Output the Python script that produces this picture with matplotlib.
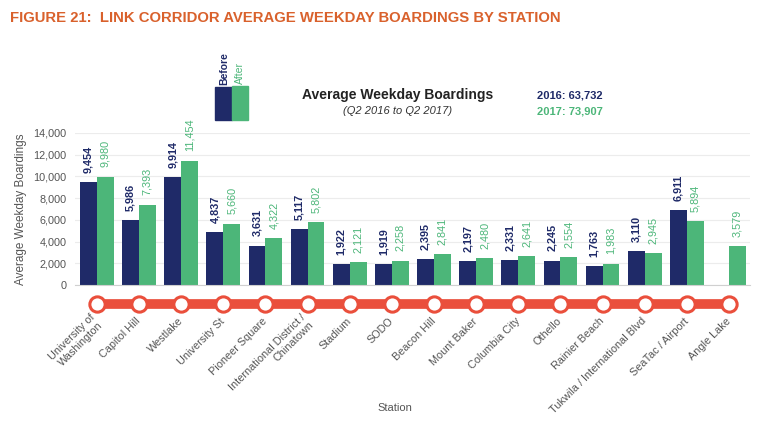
import matplotlib
matplotlib.use('Agg')
import matplotlib.pyplot as plt
from matplotlib.patches import Rectangle
from matplotlib.transforms import blended_transform_factory

plt.rcParams['font.family'] = ['Liberation Sans', 'DejaVu Sans']

NAVY = '#1f2a68'
GREEN = '#4cb679'
RED = '#ea4f3c'
ORANGE = '#d9612c'

stations = ['University of\nWashington', 'Capitol Hill', 'Westlake', 'University St',
            'Pioneer Square', 'International District /\nChinatown', 'Stadium', 'SODO',
            'Beacon Hill', 'Mount Baker', 'Columbia City', 'Othello', 'Rainier Beach',
            'Tukwila / International Blvd', 'SeaTac / Airport', 'Angle Lake']
before = [9454, 5986, 9914, 4837, 3631, 5117, 1922, 1919, 2395, 2197, 2331, 2245, 1763, 3110, 6911, None]
after = [9980, 7393, 11454, 5660, 4322, 5802, 2121, 2258, 2841, 2480, 2641, 2554, 1983, 2945, 5894, 3579]
yticks = [0, 2000, 4000, 6000, 8000, 10000, 12000, 14000]

fig = plt.figure(figsize=(7.68, 4.3), dpi=100)
ax = fig.add_axes([75 / 768, 0.337, 675 / 768, 0.354])

w = 0.4
xs = list(range(len(stations)))
for i in xs:
    if before[i] is not None:
        ax.bar(i - w / 2, before[i], w, color=NAVY)
        ax.text(i - w / 2, before[i] + 850, f'{before[i]:,}', rotation=90, ha='center',
                va='bottom', fontsize=7.8, color=NAVY, fontweight='bold')
    ax.bar(i + w / 2, after[i], w, color=GREEN)
    ax.text(i + w / 2, after[i] + 850, f'{after[i]:,}', rotation=90, ha='center',
            va='bottom', fontsize=7.8, color=GREEN)

ax.set_xlim(-0.52, 15.5)
ax.set_ylim(0, 14000)
ax.set_yticks(yticks)
ax.set_yticklabels([f'{v:,}' for v in yticks], fontsize=7.8, color='#555555')
ax.set_xticks([])
ax.tick_params(axis='y', length=0, pad=6)
ax.grid(axis='y', color='#ececec', linewidth=0.8)
ax.set_axisbelow(True)
for s in ['top', 'right', 'left']:
    ax.spines[s].set_visible(False)
ax.spines['bottom'].set_color('#d0d0d0')
ax.set_ylabel('Average Weekday Boardings', fontsize=8.5, color='#555555', labelpad=5)

# station line
tr = blended_transform_factory(ax.transData, fig.transFigure)
ax.plot(xs, [0.293] * len(xs), color=RED, linewidth=7, transform=tr, clip_on=False,
        solid_capstyle='round')
ax.plot(xs, [0.293] * len(xs), 'o', markersize=11, markerfacecolor='white',
        markeredgecolor=RED, markeredgewidth=2.2, transform=tr, clip_on=False)
for i in xs:
    ax.text(i, 0.257, stations[i], rotation=45, rotation_mode='anchor', ha='right',
            va='center', fontsize=7.8, color='#555555', transform=tr, multialignment='right')

fig.text(395 / 768, 1 - 408 / 430, 'Station', ha='center', va='center', fontsize=8,
         color='#555555')

# headings
fig.text(10 / 768, 1 - 18 / 430, 'FIGURE 21:  LINK CORRIDOR AVERAGE WEEKDAY BOARDINGS BY STATION',
         ha='left', va='center', fontsize=10.7, fontweight='bold', color=ORANGE)
fig.text(398 / 768, 1 - 95 / 430, 'Average Weekday Boardings', ha='center', va='center',
         fontsize=10, fontweight='bold', color='#222222')
fig.text(398 / 768, 1 - 111 / 430, '(Q2 2016 to Q2 2017)', ha='center', va='center',
         fontsize=8, style='italic', color='#333333')
fig.text(570 / 768, 1 - 95 / 430, '2016: 63,732', ha='center', va='center',
         fontsize=8, fontweight='bold', color=NAVY)
fig.text(570 / 768, 1 - 111 / 430, '2017: 73,907', ha='center', va='center',
         fontsize=8, fontweight='bold', color=GREEN)

# legend
fig.patches.append(Rectangle((215 / 768, 1 - 120 / 430), 17 / 768, 33 / 430,
                             transform=fig.transFigure, color=NAVY))
fig.patches.append(Rectangle((232 / 768, 1 - 120 / 430), 16 / 768, 34 / 430,
                             transform=fig.transFigure, color=GREEN))
fig.text(224 / 768, 1 - 85 / 430, 'Before', rotation=90, ha='center', va='bottom',
         fontsize=7.5, fontweight='bold', color=NAVY)
fig.text(240 / 768, 1 - 84 / 430, 'After', rotation=90, ha='center', va='bottom',
         fontsize=7.5, color=GREEN)

fig.savefig('out.png', dpi=100)
